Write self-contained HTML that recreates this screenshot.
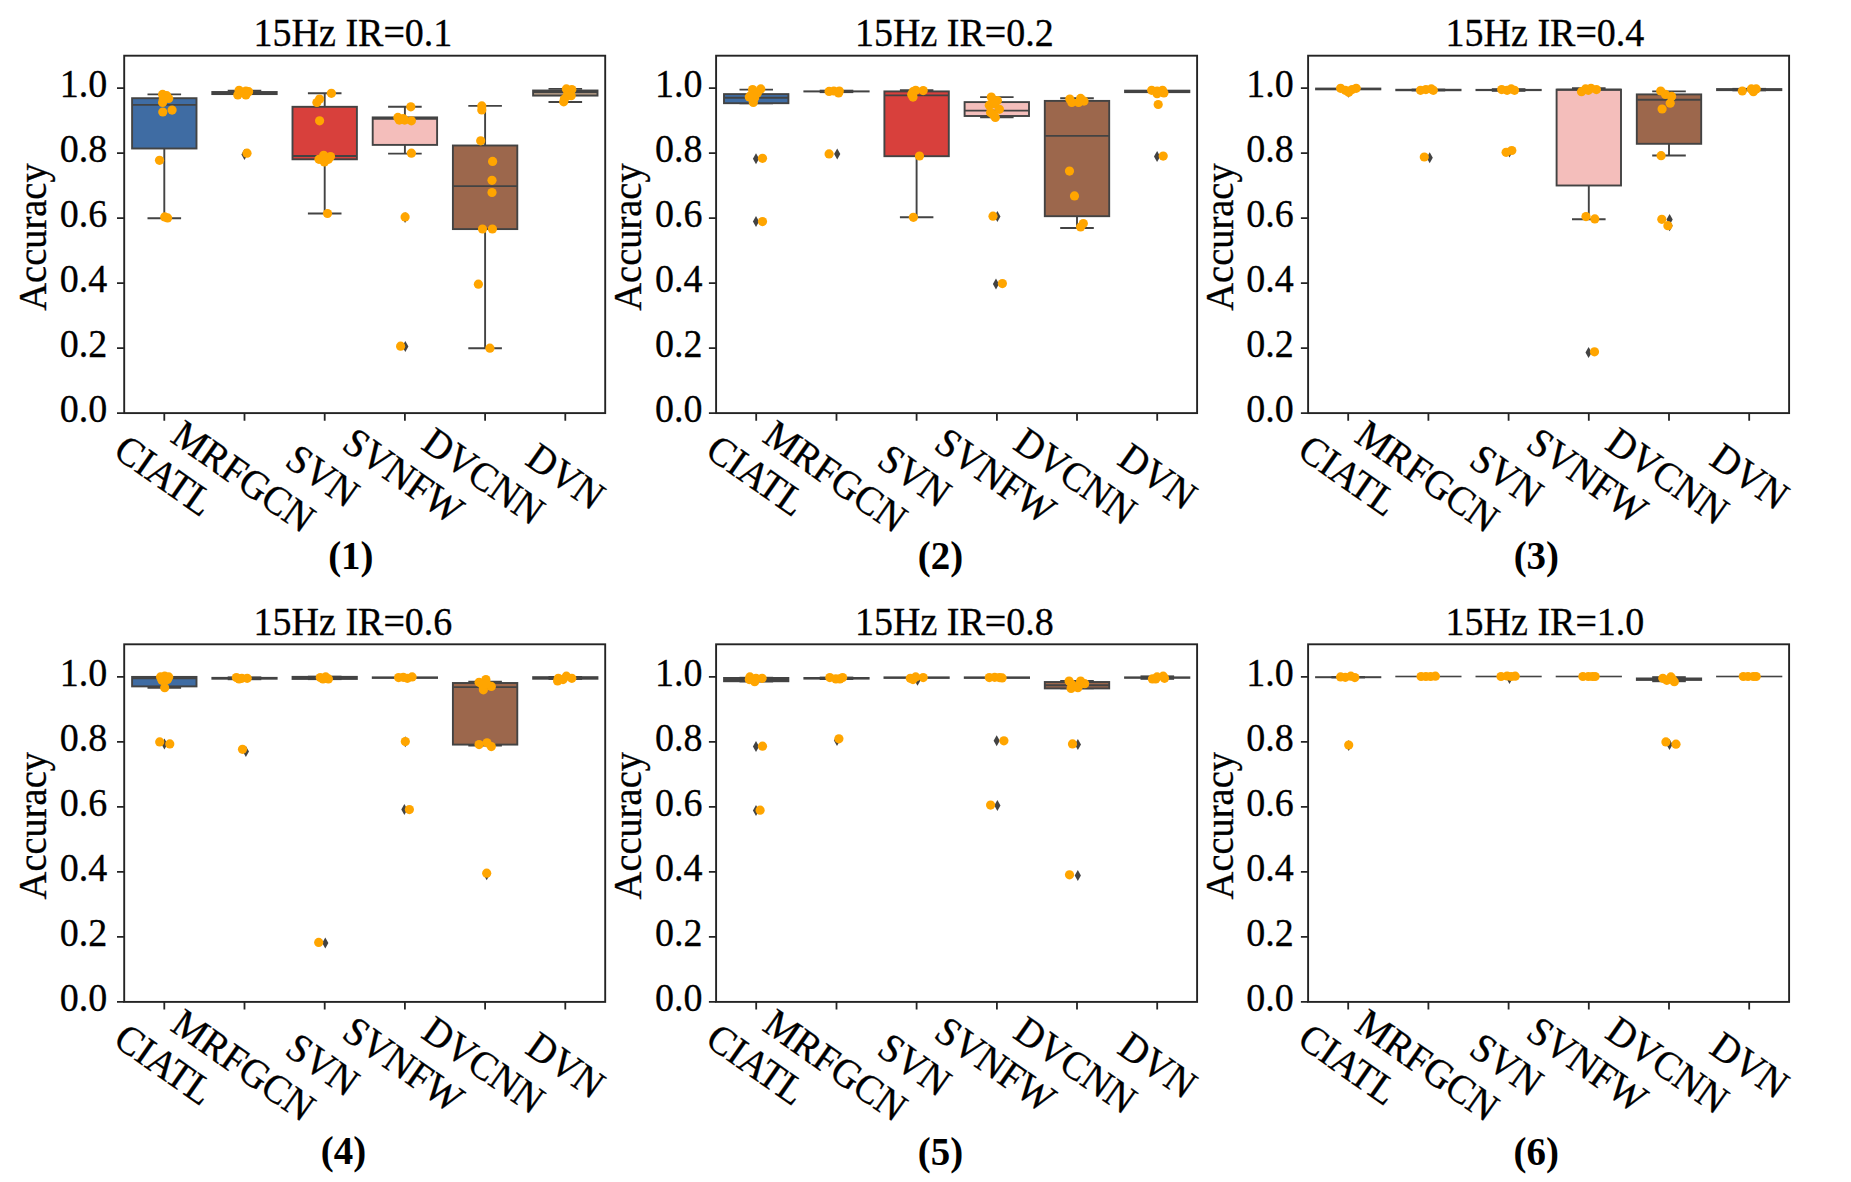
<!DOCTYPE html>
<html lang="en"><head><meta charset="utf-8"><title>15Hz accuracy box plots</title>
<style>
html,body{margin:0;padding:0;background:#fff;}
body{width:1851px;height:1182px;overflow:hidden;}
svg{display:block;}
text{font-family:"Liberation Serif","Times New Roman",Times,serif;fill:#000;}
.t{font-size:38.60px;stroke:#000;stroke-width:0.3px;}
.b{font-size:39.50px;font-weight:bold;}
.f{fill:none;stroke:#242424;stroke-width:1.9;}
.k{stroke:#242424;stroke-width:1.8;fill:none;}
.e{stroke:#434343;stroke-width:1.9;}
.w{stroke:#434343;stroke-width:1.9;fill:none;}
.d{fill:#ffa500;}
.fl{fill:#434343;}
</style></head><body>
<svg width="1851" height="1182" viewBox="0 0 1851 1182">
<rect x="0" y="0" width="1851" height="1182" fill="#fff"/>
<g>
<path class="w" d="M164.3 98.2V94.4M147.5 94.4H181.1M164.3 148.5V218.2M147.5 218.2H181.1"/>
<rect class="e" x="132.1" y="98.2" width="64.4" height="50.3" fill="#3f6ca3"/>
<path class="w" d="M132.1 104.9H196.5"/>
<path class="w" d="M244.5 92V90.6M227.7 90.6H261.3M227.7 94H261.3"/>
<rect class="e" x="212.3" y="92" width="64.4" height="2.1" fill="#a9bfdc"/>
<path class="w" d="M212.3 93H276.7"/>
<path class="w" d="M324.7 106.8V93.3M307.9 93.3H341.5M324.7 159.3V213.5M307.9 213.5H341.5"/>
<rect class="e" x="292.5" y="106.8" width="64.4" height="52.5" fill="#d8403c"/>
<path class="w" d="M292.5 156H356.9"/>
<path class="w" d="M404.9 117.4V106.8M388.1 106.8H421.7M404.9 144.9V153.6M388.1 153.6H421.7"/>
<rect class="e" x="372.7" y="117.4" width="64.4" height="27.5" fill="#f4bebb"/>
<path class="w" d="M372.7 118.8H437.1"/>
<path class="w" d="M485.1 145.5V105.9M468.3 105.9H501.9M485.1 229.1V348.2M468.3 348.2H501.9"/>
<rect class="e" x="452.9" y="145.5" width="64.4" height="83.6" fill="#9c674c"/>
<path class="w" d="M452.9 186.1H517.3"/>
<path class="w" d="M565.3 90.5V88.9M548.5 88.9H582.1M565.3 95.6V102M548.5 102H582.1"/>
<rect class="e" x="533.1" y="90.5" width="64.4" height="5.1" fill="#a9937f"/>
<path class="w" d="M533.1 92H597.5"/>
<path class="fl" d="M244.5 149.1l3.1 5.5l-3.1 5.5l-3.1 -5.5z"/>
<path class="fl" d="M405.1 211.9l3.1 5.5l-3.1 5.5l-3.1 -5.5z"/>
<path class="fl" d="M405.3 341.1l3.1 5.5l-3.1 5.5l-3.1 -5.5z"/>
<g class="d">
<circle cx="162.6" cy="94.4" r="4.6"/>
<circle cx="166.7" cy="95.7" r="4.6"/>
<circle cx="163.3" cy="99.1" r="4.6"/>
<circle cx="168.7" cy="98.4" r="4.6"/>
<circle cx="162.6" cy="102.5" r="4.6"/>
<circle cx="162.8" cy="112" r="4.6"/>
<circle cx="172.1" cy="110.1" r="4.6"/>
<circle cx="159.5" cy="160.3" r="4.6"/>
<circle cx="164.7" cy="216.9" r="4.6"/>
<circle cx="167.6" cy="217.9" r="4.6"/>
<circle cx="239.1" cy="90.3" r="4.6"/>
<circle cx="245.9" cy="91" r="4.6"/>
<circle cx="237.8" cy="95" r="4.6"/>
<circle cx="245.9" cy="95" r="4.6"/>
<circle cx="242.5" cy="92.3" r="4.6"/>
<circle cx="248.6" cy="91.7" r="4.6"/>
<circle cx="247" cy="153.2" r="4.6"/>
<circle cx="331.4" cy="93.3" r="4.6"/>
<circle cx="319.6" cy="99.1" r="4.6"/>
<circle cx="316.9" cy="102.5" r="4.6"/>
<circle cx="319.6" cy="120.8" r="4.6"/>
<circle cx="319" cy="159.3" r="4.6"/>
<circle cx="323.7" cy="155.3" r="4.6"/>
<circle cx="330.5" cy="156.6" r="4.6"/>
<circle cx="323" cy="160" r="4.6"/>
<circle cx="328.4" cy="159.3" r="4.6"/>
<circle cx="324.4" cy="162" r="4.6"/>
<circle cx="327.5" cy="213.5" r="4.6"/>
<circle cx="410.8" cy="106.8" r="4.6"/>
<circle cx="397.9" cy="117.4" r="4.6"/>
<circle cx="403.3" cy="118.7" r="4.6"/>
<circle cx="399.3" cy="120.1" r="4.6"/>
<circle cx="411.4" cy="120.8" r="4.6"/>
<circle cx="404.7" cy="120.1" r="4.6"/>
<circle cx="411.4" cy="153.2" r="4.6"/>
<circle cx="405.1" cy="216.9" r="4.6"/>
<circle cx="481.8" cy="105.9" r="4.6"/>
<circle cx="481.8" cy="109.9" r="4.6"/>
<circle cx="480.7" cy="140.8" r="4.6"/>
<circle cx="492.6" cy="161.4" r="4.6"/>
<circle cx="492" cy="180.3" r="4.6"/>
<circle cx="492" cy="192.5" r="4.6"/>
<circle cx="482.5" cy="229" r="4.6"/>
<circle cx="492.4" cy="229" r="4.6"/>
<circle cx="566.4" cy="88.9" r="4.6"/>
<circle cx="571.8" cy="89.6" r="4.6"/>
<circle cx="569.1" cy="93" r="4.6"/>
<circle cx="567.1" cy="95.7" r="4.6"/>
<circle cx="571.2" cy="95.7" r="4.6"/>
<circle cx="563.7" cy="101.8" r="4.6"/>
<circle cx="564.4" cy="99.1" r="4.6"/>
<circle cx="400.6" cy="346.2" r="4.6"/>
<circle cx="478.4" cy="284.2" r="4.6"/>
<circle cx="489.9" cy="348.2" r="4.6"/>
</g>
<rect class="f" x="124.2" y="55.7" width="481" height="357.4"/>
<path class="k" d="M124.2 413.1h-7.2M124.2 348.1h-7.2M124.2 283.1h-7.2M124.2 218.1h-7.2M124.2 153.1h-7.2M124.2 88.1h-7.2M164.3 413.1v7.6M244.5 413.1v7.6M324.7 413.1v7.6M404.9 413.1v7.6M485.1 413.1v7.6M565.3 413.1v7.6"/>
<text class="t" text-anchor="end" transform="translate(107.2 421.7) scale(0.985 1.04)">0.0</text>
<text class="t" text-anchor="end" transform="translate(107.2 356.7) scale(0.985 1.04)">0.2</text>
<text class="t" text-anchor="end" transform="translate(107.2 291.7) scale(0.985 1.04)">0.4</text>
<text class="t" text-anchor="end" transform="translate(107.2 226.7) scale(0.985 1.04)">0.6</text>
<text class="t" text-anchor="end" transform="translate(107.2 161.7) scale(0.985 1.04)">0.8</text>
<text class="t" text-anchor="end" transform="translate(107.2 96.7) scale(0.985 1.04)">1.0</text>
<text class="t" text-anchor="middle" transform="translate(46 237) rotate(-90) scale(0.997 1.04)">Accuracy</text>
<text class="t" transform="translate(253.6 46.1) scale(0.985 1.04)">15Hz IR=0.1</text>
<text class="t" text-anchor="middle" transform="translate(163.8 476.2) rotate(35) scale(1 1.05)" y="12">CIATL</text>
<text class="t" text-anchor="middle" transform="translate(243 477.1) rotate(35) scale(1 1.05)" y="12">MRFGCN</text>
<text class="t" text-anchor="middle" transform="translate(322.2 476.6) rotate(35) scale(1 1.05)" y="12">SVN</text>
<text class="t" text-anchor="middle" transform="translate(402.9 476.6) rotate(35) scale(1 1.05)" y="12">SVNFW</text>
<text class="t" text-anchor="middle" transform="translate(483.1 476.9) rotate(35) scale(1 1.05)" y="12">DVCNN</text>
<text class="t" text-anchor="middle" transform="translate(565.3 477.1) rotate(35) scale(1 1.05)" y="12">DVN</text>
<text class="b" text-anchor="middle" transform="translate(350.8 568.7) scale(0.985 1.04)">(1)</text>
</g>
<g>
<path class="w" d="M756.2 94.1V89.6M739.5 89.6H773M739.5 103.2H773"/>
<rect class="e" x="724" y="94.1" width="64.4" height="9.1" fill="#3f6ca3"/>
<path class="w" d="M724 97.7H788.5"/>
<rect class="fl" x="803.4" y="90.4" width="66.2" height="2"/>
<rect class="fl" x="819.7" y="89.7" width="33.6" height="3.4"/>
<path class="w" d="M916.6 91.4V90.3M899.9 90.3H933.4M916.6 156.2V217.3M899.9 217.3H933.4"/>
<rect class="e" x="884.4" y="91.4" width="64.4" height="64.8" fill="#d8403c"/>
<path class="w" d="M884.4 95.4H948.9"/>
<path class="w" d="M996.9 102.1V97.1M980.1 97.1H1013.6M996.9 116V117.2M980.1 117.2H1013.6"/>
<rect class="e" x="964.6" y="102.1" width="64.4" height="13.9" fill="#f4bebb"/>
<path class="w" d="M964.6 110.6H1029"/>
<path class="w" d="M1077 100.9V98.2M1060.2 98.2H1093.8M1077 216.2V228M1060.2 228H1093.8"/>
<rect class="e" x="1044.8" y="100.9" width="64.4" height="115.3" fill="#9c674c"/>
<path class="w" d="M1044.8 135.9H1109.2"/>
<rect class="fl" x="1124.1" y="89.7" width="66.2" height="3.4"/>
<path class="fl" d="M756 153.2l3.1 5.5l-3.1 5.5l-3.1 -5.5z"/>
<path class="fl" d="M756 216.1l3.1 5.5l-3.1 5.5l-3.1 -5.5z"/>
<path class="fl" d="M837.2 148.4l3.1 5.5l-3.1 5.5l-3.1 -5.5z"/>
<path class="fl" d="M997.4 211.1l3.1 5.5l-3.1 5.5l-3.1 -5.5z"/>
<path class="fl" d="M1157.1 151.1l3.1 5.5l-3.1 5.5l-3.1 -5.5z"/>
<path class="fl" d="M996 278.4l3.1 5.5l-3.1 5.5l-3.1 -5.5z"/>
<g class="d">
<circle cx="752.6" cy="89.6" r="4.6"/>
<circle cx="760.8" cy="88.9" r="4.6"/>
<circle cx="757.4" cy="93" r="4.6"/>
<circle cx="750.6" cy="95.7" r="4.6"/>
<circle cx="754.7" cy="97.7" r="4.6"/>
<circle cx="753.3" cy="102.5" r="4.6"/>
<circle cx="749.3" cy="97.1" r="4.6"/>
<circle cx="762.5" cy="158.3" r="4.6"/>
<circle cx="762.5" cy="221.6" r="4.6"/>
<circle cx="829.1" cy="91.4" r="4.6"/>
<circle cx="833.8" cy="91" r="4.6"/>
<circle cx="839.3" cy="91" r="4.6"/>
<circle cx="838.6" cy="93" r="4.6"/>
<circle cx="829.1" cy="153.9" r="4.6"/>
<circle cx="923.2" cy="90.6" r="4.6"/>
<circle cx="913" cy="91.7" r="4.6"/>
<circle cx="915.7" cy="90.3" r="4.6"/>
<circle cx="911.7" cy="94.4" r="4.6"/>
<circle cx="913" cy="97.1" r="4.6"/>
<circle cx="919.5" cy="156" r="4.6"/>
<circle cx="913.4" cy="217.3" r="4.6"/>
<circle cx="991.3" cy="97.1" r="4.6"/>
<circle cx="997.4" cy="100.5" r="4.6"/>
<circle cx="989.3" cy="105.2" r="4.6"/>
<circle cx="994.7" cy="103.8" r="4.6"/>
<circle cx="999.4" cy="109.3" r="4.6"/>
<circle cx="990.6" cy="112.6" r="4.6"/>
<circle cx="995.3" cy="117.4" r="4.6"/>
<circle cx="993.3" cy="114.7" r="4.6"/>
<circle cx="993" cy="216.2" r="4.6"/>
<circle cx="1069.8" cy="99.1" r="4.6"/>
<circle cx="1080.6" cy="98.4" r="4.6"/>
<circle cx="1071.8" cy="102.5" r="4.6"/>
<circle cx="1078.6" cy="102.5" r="4.6"/>
<circle cx="1084" cy="101.1" r="4.6"/>
<circle cx="1069.5" cy="171.1" r="4.6"/>
<circle cx="1074.5" cy="195.9" r="4.6"/>
<circle cx="1083.3" cy="223.6" r="4.6"/>
<circle cx="1080.6" cy="227" r="4.6"/>
<circle cx="1151.7" cy="90.3" r="4.6"/>
<circle cx="1157.1" cy="91" r="4.6"/>
<circle cx="1162.5" cy="90.3" r="4.6"/>
<circle cx="1163.9" cy="93" r="4.6"/>
<circle cx="1157.1" cy="93.7" r="4.6"/>
<circle cx="1158.2" cy="104.5" r="4.6"/>
<circle cx="1163.2" cy="156.1" r="4.6"/>
<circle cx="1002.4" cy="283.6" r="4.6"/>
</g>
<rect class="f" x="716.1" y="55.7" width="481" height="357.4"/>
<path class="k" d="M716.1 413.1h-7.2M716.1 348.1h-7.2M716.1 283.1h-7.2M716.1 218.1h-7.2M716.1 153.1h-7.2M716.1 88.1h-7.2M756.2 413.1v7.6M836.5 413.1v7.6M916.6 413.1v7.6M996.9 413.1v7.6M1077 413.1v7.6M1157.2 413.1v7.6"/>
<text class="t" text-anchor="end" transform="translate(702.5 421.7) scale(0.985 1.04)">0.0</text>
<text class="t" text-anchor="end" transform="translate(702.5 356.7) scale(0.985 1.04)">0.2</text>
<text class="t" text-anchor="end" transform="translate(702.5 291.7) scale(0.985 1.04)">0.4</text>
<text class="t" text-anchor="end" transform="translate(702.5 226.7) scale(0.985 1.04)">0.6</text>
<text class="t" text-anchor="end" transform="translate(702.5 161.7) scale(0.985 1.04)">0.8</text>
<text class="t" text-anchor="end" transform="translate(702.5 96.7) scale(0.985 1.04)">1.0</text>
<text class="t" text-anchor="middle" transform="translate(641.3 237) rotate(-90) scale(0.997 1.04)">Accuracy</text>
<text class="t" transform="translate(855 46.1) scale(0.985 1.04)">15Hz IR=0.2</text>
<text class="t" text-anchor="middle" transform="translate(755.8 476.2) rotate(35) scale(1 1.05)" y="12">CIATL</text>
<text class="t" text-anchor="middle" transform="translate(835 477.1) rotate(35) scale(1 1.05)" y="12">MRFGCN</text>
<text class="t" text-anchor="middle" transform="translate(914.1 476.6) rotate(35) scale(1 1.05)" y="12">SVN</text>
<text class="t" text-anchor="middle" transform="translate(994.9 476.6) rotate(35) scale(1 1.05)" y="12">SVNFW</text>
<text class="t" text-anchor="middle" transform="translate(1075 476.9) rotate(35) scale(1 1.05)" y="12">DVCNN</text>
<text class="t" text-anchor="middle" transform="translate(1157.2 477.1) rotate(35) scale(1 1.05)" y="12">DVN</text>
<text class="b" text-anchor="middle" transform="translate(940.4 568.7) scale(0.985 1.04)">(2)</text>
</g>
<g>
<rect class="fl" x="1315.1" y="87.6" width="66.2" height="2.7"/>
<rect class="fl" x="1395.3" y="88.8" width="66.2" height="2.4"/>
<rect class="fl" x="1411.6" y="88.6" width="33.6" height="2.8"/>
<rect class="fl" x="1475.5" y="88.9" width="66.2" height="2.2"/>
<rect class="fl" x="1491.8" y="88.2" width="33.6" height="3.6"/>
<path class="w" d="M1588.8 89.6V88.3M1572 88.3H1605.6M1588.8 185.5V219.3M1572 219.3H1605.6"/>
<rect class="e" x="1556.6" y="89.6" width="64.4" height="95.9" fill="#f4bebb"/>
<path class="w" d="M1556.6 89.8H1621"/>
<path class="w" d="M1669 94.4V91.4M1652.2 91.4H1685.8M1669 143.8V155.5M1652.2 155.5H1685.8"/>
<rect class="e" x="1636.8" y="94.4" width="64.4" height="49.4" fill="#9c674c"/>
<path class="w" d="M1636.8 99.8H1701.2"/>
<rect class="fl" x="1716.1" y="88.1" width="66.2" height="3"/>
<rect class="fl" x="1732.4" y="87.9" width="33.6" height="3.4"/>
<path class="fl" d="M1348.5 86.8l3.1 5.5l-3.1 5.5l-3.1 -5.5z"/>
<path class="fl" d="M1429.7 152.2l3.1 5.5l-3.1 5.5l-3.1 -5.5z"/>
<path class="fl" d="M1509.5 146.4l3.1 5.5l-3.1 5.5l-3.1 -5.5z"/>
<path class="fl" d="M1588.6 346.9l3.1 5.5l-3.1 5.5l-3.1 -5.5z"/>
<path class="fl" d="M1669.6 213.9l3.1 5.5l-3.1 5.5l-3.1 -5.5z"/>
<path class="fl" d="M1669.6 220.3l3.1 5.5l-3.1 5.5l-3.1 -5.5z"/>
<g class="d">
<circle cx="1340.6" cy="88.3" r="4.6"/>
<circle cx="1345.3" cy="90.3" r="4.6"/>
<circle cx="1348.7" cy="92.3" r="4.6"/>
<circle cx="1352.1" cy="89.6" r="4.6"/>
<circle cx="1356.2" cy="88.3" r="4.6"/>
<circle cx="1420.5" cy="90.3" r="4.6"/>
<circle cx="1425.9" cy="89.6" r="4.6"/>
<circle cx="1431.3" cy="88.9" r="4.6"/>
<circle cx="1433.3" cy="90.3" r="4.6"/>
<circle cx="1424.3" cy="157" r="4.6"/>
<circle cx="1501.7" cy="89.6" r="4.6"/>
<circle cx="1507.1" cy="90.3" r="4.6"/>
<circle cx="1511.2" cy="88.9" r="4.6"/>
<circle cx="1514.5" cy="90.3" r="4.6"/>
<circle cx="1506.1" cy="152.3" r="4.6"/>
<circle cx="1511.8" cy="150.5" r="4.6"/>
<circle cx="1581.5" cy="91.7" r="4.6"/>
<circle cx="1585.6" cy="88.9" r="4.6"/>
<circle cx="1591" cy="88.3" r="4.6"/>
<circle cx="1596.4" cy="89.6" r="4.6"/>
<circle cx="1588.3" cy="90.3" r="4.6"/>
<circle cx="1586" cy="216.6" r="4.6"/>
<circle cx="1594.8" cy="218.9" r="4.6"/>
<circle cx="1660.7" cy="91" r="4.6"/>
<circle cx="1665.5" cy="94.4" r="4.6"/>
<circle cx="1671.6" cy="96.4" r="4.6"/>
<circle cx="1670.2" cy="103.2" r="4.6"/>
<circle cx="1662.1" cy="109" r="4.6"/>
<circle cx="1661.1" cy="155.7" r="4.6"/>
<circle cx="1661.8" cy="219.3" r="4.6"/>
<circle cx="1667.9" cy="225.7" r="4.6"/>
<circle cx="1742.3" cy="91" r="4.6"/>
<circle cx="1751.4" cy="88.9" r="4.6"/>
<circle cx="1756.2" cy="88.9" r="4.6"/>
<circle cx="1753.4" cy="91.7" r="4.6"/>
<circle cx="1594.5" cy="351.8" r="4.6"/>
</g>
<rect class="f" x="1308.1" y="55.7" width="481" height="357.4"/>
<path class="k" d="M1308.1 413.1h-7.2M1308.1 348.1h-7.2M1308.1 283.1h-7.2M1308.1 218.1h-7.2M1308.1 153.1h-7.2M1308.1 88.1h-7.2M1348.2 413.1v7.6M1428.4 413.1v7.6M1508.6 413.1v7.6M1588.8 413.1v7.6M1669 413.1v7.6M1749.2 413.1v7.6"/>
<text class="t" text-anchor="end" transform="translate(1293.7 421.7) scale(0.985 1.04)">0.0</text>
<text class="t" text-anchor="end" transform="translate(1293.7 356.7) scale(0.985 1.04)">0.2</text>
<text class="t" text-anchor="end" transform="translate(1293.7 291.7) scale(0.985 1.04)">0.4</text>
<text class="t" text-anchor="end" transform="translate(1293.7 226.7) scale(0.985 1.04)">0.6</text>
<text class="t" text-anchor="end" transform="translate(1293.7 161.7) scale(0.985 1.04)">0.8</text>
<text class="t" text-anchor="end" transform="translate(1293.7 96.7) scale(0.985 1.04)">1.0</text>
<text class="t" text-anchor="middle" transform="translate(1232.5 237) rotate(-90) scale(0.997 1.04)">Accuracy</text>
<text class="t" transform="translate(1445.6 46.1) scale(0.985 1.04)">15Hz IR=0.4</text>
<text class="t" text-anchor="middle" transform="translate(1347.7 476.2) rotate(35) scale(1 1.05)" y="12">CIATL</text>
<text class="t" text-anchor="middle" transform="translate(1426.9 477.1) rotate(35) scale(1 1.05)" y="12">MRFGCN</text>
<text class="t" text-anchor="middle" transform="translate(1506.1 476.6) rotate(35) scale(1 1.05)" y="12">SVN</text>
<text class="t" text-anchor="middle" transform="translate(1586.8 476.6) rotate(35) scale(1 1.05)" y="12">SVNFW</text>
<text class="t" text-anchor="middle" transform="translate(1667 476.9) rotate(35) scale(1 1.05)" y="12">DVCNN</text>
<text class="t" text-anchor="middle" transform="translate(1749.2 477.1) rotate(35) scale(1 1.05)" y="12">DVN</text>
<text class="b" text-anchor="middle" transform="translate(1536.3 568.7) scale(0.985 1.04)">(3)</text>
</g>
<g>
<path class="w" d="M147.5 676.9H181.1M164.3 686.4V687.7M147.5 687.7H181.1"/>
<rect class="e" x="132.1" y="676.9" width="64.4" height="9.5" fill="#3f6ca3"/>
<path class="w" d="M132.1 678.3H196.5"/>
<rect class="fl" x="211.4" y="676.9" width="66.2" height="2.8"/>
<rect class="fl" x="227.7" y="676.4" width="33.6" height="3.8"/>
<rect class="fl" x="291.6" y="675.9" width="66.2" height="4"/>
<rect class="fl" x="307.9" y="675.7" width="33.6" height="4.4"/>
<rect class="fl" x="371.8" y="676.4" width="66.2" height="2.5"/>
<path class="w" d="M485.1 683V681.7M468.3 681.7H501.9M485.1 744.6V745.6M468.3 745.6H501.9"/>
<rect class="e" x="452.9" y="683" width="64.4" height="61.6" fill="#9c674c"/>
<path class="w" d="M452.9 687.1H517.3"/>
<rect class="fl" x="532.2" y="676.2" width="66.2" height="3.5"/>
<rect class="fl" x="548.5" y="676" width="33.6" height="3.9"/>
<path class="fl" d="M164.4 738.4l3.1 5.5l-3.1 5.5l-3.1 -5.5z"/>
<path class="fl" d="M245.9 745.9l3.1 5.5l-3.1 5.5l-3.1 -5.5z"/>
<path class="fl" d="M325.3 937.6l3.1 5.5l-3.1 5.5l-3.1 -5.5z"/>
<path class="fl" d="M405.3 736.3l3.1 5.5l-3.1 5.5l-3.1 -5.5z"/>
<path class="fl" d="M404.4 804.1l3.1 5.5l-3.1 5.5l-3.1 -5.5z"/>
<path class="fl" d="M486.7 869.3l3.1 5.5l-3.1 5.5l-3.1 -5.5z"/>
<g class="d">
<circle cx="160.6" cy="676.9" r="4.6"/>
<circle cx="164.7" cy="676.2" r="4.6"/>
<circle cx="168.7" cy="676.9" r="4.6"/>
<circle cx="162" cy="680.3" r="4.6"/>
<circle cx="167.4" cy="679.6" r="4.6"/>
<circle cx="164.7" cy="687.7" r="4.6"/>
<circle cx="159.7" cy="741.9" r="4.6"/>
<circle cx="169.8" cy="743.9" r="4.6"/>
<circle cx="236.4" cy="677.6" r="4.6"/>
<circle cx="241.8" cy="678.3" r="4.6"/>
<circle cx="247.2" cy="678.3" r="4.6"/>
<circle cx="239.1" cy="678.9" r="4.6"/>
<circle cx="242.5" cy="749.3" r="4.6"/>
<circle cx="320.3" cy="677.6" r="4.6"/>
<circle cx="325.7" cy="676.9" r="4.6"/>
<circle cx="328.4" cy="678.9" r="4.6"/>
<circle cx="323" cy="678.9" r="4.6"/>
<circle cx="318.7" cy="942.4" r="4.6"/>
<circle cx="398.6" cy="677.6" r="4.6"/>
<circle cx="403.3" cy="677.3" r="4.6"/>
<circle cx="407.4" cy="678.3" r="4.6"/>
<circle cx="412.1" cy="676.9" r="4.6"/>
<circle cx="405.3" cy="741.6" r="4.6"/>
<circle cx="409.4" cy="809.6" r="4.6"/>
<circle cx="479.1" cy="682.3" r="4.6"/>
<circle cx="485.9" cy="679.6" r="4.6"/>
<circle cx="482.5" cy="685" r="4.6"/>
<circle cx="491.3" cy="686.4" r="4.6"/>
<circle cx="483.4" cy="689.8" r="4.6"/>
<circle cx="486.6" cy="683.7" r="4.6"/>
<circle cx="479.1" cy="744.6" r="4.6"/>
<circle cx="487" cy="742.8" r="4.6"/>
<circle cx="491.3" cy="746.6" r="4.6"/>
<circle cx="558.3" cy="678.3" r="4.6"/>
<circle cx="566.4" cy="676.2" r="4.6"/>
<circle cx="571.8" cy="678.3" r="4.6"/>
<circle cx="557.6" cy="681" r="4.6"/>
<circle cx="563" cy="679.6" r="4.6"/>
<circle cx="486.7" cy="873.2" r="4.6"/>
</g>
<rect class="f" x="124.2" y="644.3" width="481" height="357.6"/>
<path class="k" d="M124.2 1001.9h-7.2M124.2 936.9h-7.2M124.2 871.9h-7.2M124.2 806.9h-7.2M124.2 741.9h-7.2M124.2 676.9h-7.2M164.3 1001.9v7.6M244.5 1001.9v7.6M324.7 1001.9v7.6M404.9 1001.9v7.6M485.1 1001.9v7.6M565.3 1001.9v7.6"/>
<text class="t" text-anchor="end" transform="translate(107.2 1010.5) scale(0.985 1.04)">0.0</text>
<text class="t" text-anchor="end" transform="translate(107.2 945.5) scale(0.985 1.04)">0.2</text>
<text class="t" text-anchor="end" transform="translate(107.2 880.5) scale(0.985 1.04)">0.4</text>
<text class="t" text-anchor="end" transform="translate(107.2 815.5) scale(0.985 1.04)">0.6</text>
<text class="t" text-anchor="end" transform="translate(107.2 750.5) scale(0.985 1.04)">0.8</text>
<text class="t" text-anchor="end" transform="translate(107.2 685.5) scale(0.985 1.04)">1.0</text>
<text class="t" text-anchor="middle" transform="translate(46 825.7) rotate(-90) scale(0.997 1.04)">Accuracy</text>
<text class="t" transform="translate(253.6 634.7) scale(0.985 1.04)">15Hz IR=0.6</text>
<text class="t" text-anchor="middle" transform="translate(163.8 1065.1) rotate(35) scale(1 1.05)" y="12">CIATL</text>
<text class="t" text-anchor="middle" transform="translate(243 1065.9) rotate(35) scale(1 1.05)" y="12">MRFGCN</text>
<text class="t" text-anchor="middle" transform="translate(322.2 1065.4) rotate(35) scale(1 1.05)" y="12">SVN</text>
<text class="t" text-anchor="middle" transform="translate(402.9 1065.4) rotate(35) scale(1 1.05)" y="12">SVNFW</text>
<text class="t" text-anchor="middle" transform="translate(483.1 1065.7) rotate(35) scale(1 1.05)" y="12">DVCNN</text>
<text class="t" text-anchor="middle" transform="translate(565.3 1065.9) rotate(35) scale(1 1.05)" y="12">DVN</text>
<text class="b" text-anchor="middle" transform="translate(343.5 1164.3) scale(0.985 1.04)">(4)</text>
</g>
<g>
<rect class="fl" x="723.1" y="677" width="66.2" height="5.2"/>
<rect class="fl" x="739.5" y="676.8" width="33.6" height="5.6"/>
<rect class="fl" x="803.4" y="677" width="66.2" height="2.6"/>
<rect class="fl" x="819.7" y="676.6" width="33.6" height="3.4"/>
<rect class="fl" x="883.5" y="676.4" width="66.2" height="2.5"/>
<rect class="fl" x="963.8" y="676.4" width="66.2" height="2.5"/>
<path class="w" d="M1077 682V681M1060.2 681H1093.8M1060.2 688.4H1093.8"/>
<rect class="e" x="1044.8" y="682" width="64.4" height="6.4" fill="#9c674c"/>
<path class="w" d="M1044.8 685.2H1109.2"/>
<rect class="fl" x="1124.1" y="676.4" width="66.2" height="2.4"/>
<rect class="fl" x="1140.5" y="675.4" width="33.6" height="4.4"/>
<path class="fl" d="M756 741.1l3.1 5.5l-3.1 5.5l-3.1 -5.5z"/>
<path class="fl" d="M756 805l3.1 5.5l-3.1 5.5l-3.1 -5.5z"/>
<path class="fl" d="M837 735l3.1 5.5l-3.1 5.5l-3.1 -5.5z"/>
<path class="fl" d="M917.5 674.8l3.1 5.5l-3.1 5.5l-3.1 -5.5z"/>
<path class="fl" d="M996.7 735.3l3.1 5.5l-3.1 5.5l-3.1 -5.5z"/>
<path class="fl" d="M997.4 800l3.1 5.5l-3.1 5.5l-3.1 -5.5z"/>
<path class="fl" d="M1077.9 739.1l3.1 5.5l-3.1 5.5l-3.1 -5.5z"/>
<path class="fl" d="M1077.8 870l3.1 5.5l-3.1 5.5l-3.1 -5.5z"/>
<g class="d">
<circle cx="749.9" cy="676.9" r="4.6"/>
<circle cx="756" cy="678.3" r="4.6"/>
<circle cx="762.1" cy="678.3" r="4.6"/>
<circle cx="754.7" cy="681.7" r="4.6"/>
<circle cx="749.3" cy="679.6" r="4.6"/>
<circle cx="762.5" cy="746.2" r="4.6"/>
<circle cx="760.1" cy="810.2" r="4.6"/>
<circle cx="829.8" cy="677.6" r="4.6"/>
<circle cx="835.9" cy="678.9" r="4.6"/>
<circle cx="842.6" cy="677.6" r="4.6"/>
<circle cx="839.9" cy="678.9" r="4.6"/>
<circle cx="838.9" cy="738.8" r="4.6"/>
<circle cx="910.3" cy="678.3" r="4.6"/>
<circle cx="915.7" cy="676.9" r="4.6"/>
<circle cx="923.2" cy="677.6" r="4.6"/>
<circle cx="913" cy="679.6" r="4.6"/>
<circle cx="989.3" cy="677.6" r="4.6"/>
<circle cx="994.7" cy="677.3" r="4.6"/>
<circle cx="999.4" cy="677.6" r="4.6"/>
<circle cx="1002.1" cy="677.9" r="4.6"/>
<circle cx="1003.9" cy="740.8" r="4.6"/>
<circle cx="990.6" cy="805.1" r="4.6"/>
<circle cx="1069.1" cy="681" r="4.6"/>
<circle cx="1080.6" cy="681" r="4.6"/>
<circle cx="1071.8" cy="684.4" r="4.6"/>
<circle cx="1078.6" cy="685.7" r="4.6"/>
<circle cx="1084.7" cy="683.7" r="4.6"/>
<circle cx="1071.1" cy="688.4" r="4.6"/>
<circle cx="1077.9" cy="687.7" r="4.6"/>
<circle cx="1072.5" cy="743.9" r="4.6"/>
<circle cx="1152.4" cy="678.9" r="4.6"/>
<circle cx="1157.1" cy="676.9" r="4.6"/>
<circle cx="1163.2" cy="676.2" r="4.6"/>
<circle cx="1164.5" cy="678.3" r="4.6"/>
<circle cx="1155.7" cy="678.9" r="4.6"/>
<circle cx="1069.5" cy="874.8" r="4.6"/>
</g>
<rect class="f" x="716.1" y="644.3" width="481" height="357.6"/>
<path class="k" d="M716.1 1001.9h-7.2M716.1 936.9h-7.2M716.1 871.9h-7.2M716.1 806.9h-7.2M716.1 741.9h-7.2M716.1 676.9h-7.2M756.2 1001.9v7.6M836.5 1001.9v7.6M916.6 1001.9v7.6M996.9 1001.9v7.6M1077 1001.9v7.6M1157.2 1001.9v7.6"/>
<text class="t" text-anchor="end" transform="translate(702.5 1010.5) scale(0.985 1.04)">0.0</text>
<text class="t" text-anchor="end" transform="translate(702.5 945.5) scale(0.985 1.04)">0.2</text>
<text class="t" text-anchor="end" transform="translate(702.5 880.5) scale(0.985 1.04)">0.4</text>
<text class="t" text-anchor="end" transform="translate(702.5 815.5) scale(0.985 1.04)">0.6</text>
<text class="t" text-anchor="end" transform="translate(702.5 750.5) scale(0.985 1.04)">0.8</text>
<text class="t" text-anchor="end" transform="translate(702.5 685.5) scale(0.985 1.04)">1.0</text>
<text class="t" text-anchor="middle" transform="translate(641.3 825.7) rotate(-90) scale(0.997 1.04)">Accuracy</text>
<text class="t" transform="translate(855 634.7) scale(0.985 1.04)">15Hz IR=0.8</text>
<text class="t" text-anchor="middle" transform="translate(755.8 1065.1) rotate(35) scale(1 1.05)" y="12">CIATL</text>
<text class="t" text-anchor="middle" transform="translate(835 1065.9) rotate(35) scale(1 1.05)" y="12">MRFGCN</text>
<text class="t" text-anchor="middle" transform="translate(914.1 1065.4) rotate(35) scale(1 1.05)" y="12">SVN</text>
<text class="t" text-anchor="middle" transform="translate(994.9 1065.4) rotate(35) scale(1 1.05)" y="12">SVNFW</text>
<text class="t" text-anchor="middle" transform="translate(1075 1065.7) rotate(35) scale(1 1.05)" y="12">DVCNN</text>
<text class="t" text-anchor="middle" transform="translate(1157.2 1065.9) rotate(35) scale(1 1.05)" y="12">DVN</text>
<text class="b" text-anchor="middle" transform="translate(940.4 1164.5) scale(0.985 1.04)">(5)</text>
</g>
<g>
<rect class="fl" x="1315.1" y="676.2" width="66.2" height="2"/>
<rect class="fl" x="1331.4" y="676" width="33.6" height="2.4"/>
<rect class="fl" x="1395.3" y="675.7" width="66.2" height="1.6"/>
<rect class="fl" x="1475.5" y="675.7" width="66.2" height="1.6"/>
<rect class="fl" x="1555.7" y="675.7" width="66.2" height="1.6"/>
<rect class="fl" x="1635.9" y="677.5" width="66.2" height="3.4"/>
<rect class="fl" x="1652.2" y="676.2" width="33.6" height="6"/>
<rect class="fl" x="1716.1" y="675.7" width="66.2" height="1.6"/>
<path class="fl" d="M1348.7 739.9l3.1 5.5l-3.1 5.5l-3.1 -5.5z"/>
<path class="fl" d="M1509.5 672.9l3.1 5.5l-3.1 5.5l-3.1 -5.5z"/>
<path class="fl" d="M1669.5 739.1l3.1 5.5l-3.1 5.5l-3.1 -5.5z"/>
<g class="d">
<circle cx="1340.6" cy="676.9" r="4.6"/>
<circle cx="1345.3" cy="677.3" r="4.6"/>
<circle cx="1350.8" cy="676.2" r="4.6"/>
<circle cx="1354.8" cy="677.6" r="4.6"/>
<circle cx="1348.7" cy="745" r="4.6"/>
<circle cx="1421.1" cy="676.5" r="4.6"/>
<circle cx="1425.9" cy="676.5" r="4.6"/>
<circle cx="1430.6" cy="676.5" r="4.6"/>
<circle cx="1435.4" cy="676.2" r="4.6"/>
<circle cx="1501" cy="676.5" r="4.6"/>
<circle cx="1507.1" cy="676" r="4.6"/>
<circle cx="1511.2" cy="676.5" r="4.6"/>
<circle cx="1515.2" cy="676.2" r="4.6"/>
<circle cx="1582.9" cy="676.5" r="4.6"/>
<circle cx="1588.3" cy="676.5" r="4.6"/>
<circle cx="1592.4" cy="676.5" r="4.6"/>
<circle cx="1595.1" cy="676.5" r="4.6"/>
<circle cx="1662.8" cy="678.3" r="4.6"/>
<circle cx="1670.9" cy="676.9" r="4.6"/>
<circle cx="1666.8" cy="680.3" r="4.6"/>
<circle cx="1674.3" cy="681.7" r="4.6"/>
<circle cx="1672.2" cy="678.9" r="4.6"/>
<circle cx="1665.9" cy="741.9" r="4.6"/>
<circle cx="1676" cy="744.2" r="4.6"/>
<circle cx="1743.3" cy="676.5" r="4.6"/>
<circle cx="1748" cy="676.5" r="4.6"/>
<circle cx="1753.4" cy="676.5" r="4.6"/>
<circle cx="1756.2" cy="676.5" r="4.6"/>
</g>
<rect class="f" x="1308.1" y="644.3" width="481" height="357.6"/>
<path class="k" d="M1308.1 1001.9h-7.2M1308.1 936.9h-7.2M1308.1 871.9h-7.2M1308.1 806.9h-7.2M1308.1 741.9h-7.2M1308.1 676.9h-7.2M1348.2 1001.9v7.6M1428.4 1001.9v7.6M1508.6 1001.9v7.6M1588.8 1001.9v7.6M1669 1001.9v7.6M1749.2 1001.9v7.6"/>
<text class="t" text-anchor="end" transform="translate(1293.7 1010.5) scale(0.985 1.04)">0.0</text>
<text class="t" text-anchor="end" transform="translate(1293.7 945.5) scale(0.985 1.04)">0.2</text>
<text class="t" text-anchor="end" transform="translate(1293.7 880.5) scale(0.985 1.04)">0.4</text>
<text class="t" text-anchor="end" transform="translate(1293.7 815.5) scale(0.985 1.04)">0.6</text>
<text class="t" text-anchor="end" transform="translate(1293.7 750.5) scale(0.985 1.04)">0.8</text>
<text class="t" text-anchor="end" transform="translate(1293.7 685.5) scale(0.985 1.04)">1.0</text>
<text class="t" text-anchor="middle" transform="translate(1232.5 825.7) rotate(-90) scale(0.997 1.04)">Accuracy</text>
<text class="t" transform="translate(1445.6 634.7) scale(0.985 1.04)">15Hz IR=1.0</text>
<text class="t" text-anchor="middle" transform="translate(1347.7 1065.1) rotate(35) scale(1 1.05)" y="12">CIATL</text>
<text class="t" text-anchor="middle" transform="translate(1426.9 1065.9) rotate(35) scale(1 1.05)" y="12">MRFGCN</text>
<text class="t" text-anchor="middle" transform="translate(1506.1 1065.4) rotate(35) scale(1 1.05)" y="12">SVN</text>
<text class="t" text-anchor="middle" transform="translate(1586.8 1065.4) rotate(35) scale(1 1.05)" y="12">SVNFW</text>
<text class="t" text-anchor="middle" transform="translate(1667 1065.7) rotate(35) scale(1 1.05)" y="12">DVCNN</text>
<text class="t" text-anchor="middle" transform="translate(1749.2 1065.9) rotate(35) scale(1 1.05)" y="12">DVN</text>
<text class="b" text-anchor="middle" transform="translate(1536.2 1164.5) scale(0.985 1.04)">(6)</text>
</g>
</svg></body></html>
